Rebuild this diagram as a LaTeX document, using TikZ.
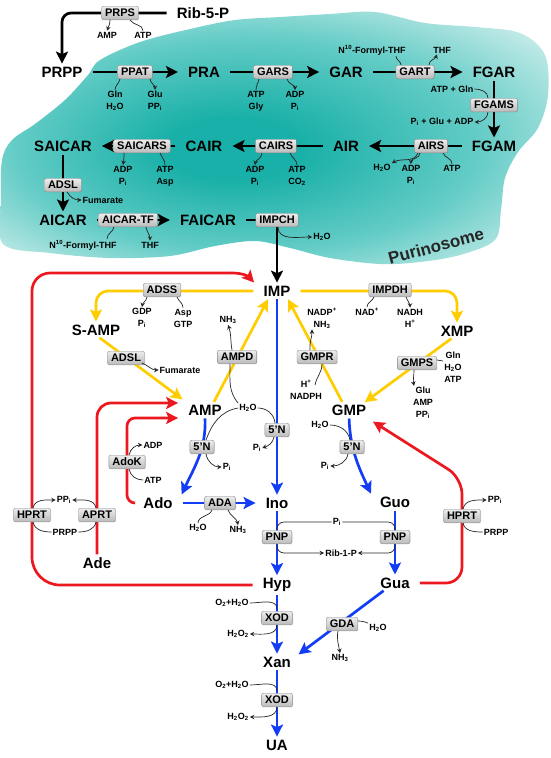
\documentclass[tikz,border=0pt]{standalone}
\usepackage{fontspec}
\setmainfont{Liberation Sans}
\usetikzlibrary{arrows.meta,shadows}

\definecolor{rd}{RGB}{236,24,32}
\definecolor{yl}{RGB}{255,204,0}
\definecolor{bl}{RGB}{18,60,245}
\definecolor{tealc}{RGB}{24,176,168}
\definecolor{tealm}{RGB}{100,204,198}
\definecolor{teall}{RGB}{200,236,234}
\pgfdeclareradialshading{purino}{\pgfpoint{-4bp}{-2.5bp}}{color(0bp)=(tealc); color(6bp)=(tealc); color(21bp)=(tealm); color(33bp)=(teall); color(50bp)=(teall)}

\newcommand{\Pii}{P\textsubscript{i}}
\newcommand{\PPi}{PP\textsubscript{i}}
\newcommand{\Hoo}{H\textsubscript{2}O}
\newcommand{\Nform}{N\textsuperscript{10}-Formyl-THF}

\tikzset{
  met/.style={font=\fontsize{15}{16}\selectfont\bfseries, inner xsep=8pt, inner ysep=1pt},
  enz/.style={draw=black!45, top color=black!7, bottom color=black!27, rounded corners=2pt,
    font=\fontsize{11}{11}\selectfont\bfseries, inner xsep=3.5pt, inner ysep=1pt, minimum height=13.5pt,
    drop shadow={opacity=0.25, shadow xshift=0.7pt, shadow yshift=-0.7pt}},
  sm/.style={font=\fontsize{9}{12}\selectfont\bfseries, inner sep=1pt, align=center},
  mainarr/.style={line width=2.7pt, -{Stealth[length=12pt,width=12pt,inset=2.5pt]}, shorten <=2pt, shorten >=2pt},
  rdarr/.style={mainarr, draw=rd},
  ylarr/.style={mainarr, draw=yl},
  blarr/.style={mainarr, draw=bl},
  side/.style={line width=0.7pt, draw=black!85, -{Stealth[length=4.5pt,width=4.5pt]}},
  cof/.style={line width=0.7pt, draw=black!85},
}

\begin{document}
\begin{tikzpicture}[x=1pt,y=1pt]
\useasboundingbox (0,0) rectangle (550,-758);

%% purinosome
\shade[shading=purino] plot[smooth cycle, tension=0.55] coordinates {
  (100,-60) (140,-42) (190,-29) (235,-20) (280,-17) (330,-14) (375,-12) (425,-23)
  (475,-27) (520,-33) (545,-55) (548,-95) (538,-128) (518,-152) (505,-178) (501,-210)
  (495,-240) (460,-255) (420,-262) (380,-264) (330,-258) (290,-248) (255,-241) (215,-246)
  (170,-256) (110,-258) (50,-253) (3,-244) (1,-200) (2,-160) (12,-140) (35,-124)
  (65,-100) (88,-75)};
\node[rotate=15, font=\fontsize{17}{17}\selectfont\bfseries, text=black!85] (puri) at (436,-246) {Purinosome};

%% metabolites, de novo
\node[met] (rib) at (203,-13) {Rib-5-P};
\node[met] (prpp) at (62,-72) {PRPP};
\node[met] (pra) at (204,-72) {PRA};
\node[met] (gar) at (346,-72) {GAR};
\node[met] (fgar) at (494,-72) {FGAR};
\node[met] (fgam) at (494,-146) {FGAM};
\node[met] (air) at (346,-146) {AIR};
\node[met] (cair) at (204,-146) {CAIR};
\node[met] (saicar) at (63,-146) {SAICAR};
\node[met] (aicar) at (63,-220) {AICAR};
\node[met] (faicar) at (208,-220) {FAICAR};
\node[met] (imp) at (277,-291) {IMP};

%% metabolites, salvage
\node[met] (samp) at (96,-330) {S-AMP};
\node[met] (xmp) at (457,-331) {XMP};
\node[met] (amp) at (205,-410) {AMP};
\node[met] (gmp) at (349,-410) {GMP};
\node[met] (ado) at (158,-503) {Ado};
\node[met] (ino) at (277,-503) {Ino};
\node[met] (guo) at (395,-502) {Guo};
\node[met] (ade) at (97,-563) {Ade};
\node[met] (hyp) at (277,-585) {Hyp};
\node[met] (gua) at (395,-583) {Gua};
\node[met] (xan) at (277,-662) {Xan};
\node[met] (ua) at (277,-745) {UA};

%% de novo arrows
\draw[mainarr, rounded corners=9pt] (rib.west) -| (prpp.north);
\draw[mainarr] (prpp) -- (pra);
\draw[mainarr] (pra) -- (gar);
\draw[mainarr] (gar) -- (fgar);
\draw[mainarr] (fgar) -- (fgam);
\draw[mainarr] (fgam) -- (air);
\draw[mainarr] (air) -- (cair);
\draw[mainarr] (cair) -- (saicar);
\draw[mainarr] (saicar) -- (aicar);
\draw[mainarr] (aicar) -- (faicar);
\draw[mainarr] (faicar) -| (imp);

%% yellow
\draw[ylarr, rounded corners=12pt] (imp.west) -| (samp.north);
\draw[ylarr] ([xshift=2pt]samp.south) -- ([shift={(4pt,3pt)}]amp.north west);
\draw[ylarr] ([xshift=8pt]amp.north) -- ([xshift=-8pt]imp.south);
\draw[ylarr, rounded corners=12pt] (imp.east) -| (xmp.north);
\draw[ylarr] ([xshift=-4pt]xmp.south) -- ([xshift=14pt]gmp.north);
\draw[ylarr] ([xshift=-6pt]gmp.north) -- ([xshift=10pt]imp.south);

%% blue
\draw[blarr] (imp) -- (ino);
\draw[blarr] (amp.south) to[out=-88,in=65] (ado.north east);
\draw[blarr] (gmp.south) to[out=-88,in=115] (guo.north west);
\draw[blarr] (ado) -- (ino);
\draw[blarr] (ino) -- (hyp);
\draw[blarr] (guo) -- (gua);
\draw[blarr] (hyp) -- (xan);
\draw[blarr] (xan) -- (ua);
\draw[blarr] ([xshift=13pt]gua.south west) -- ([xshift=-2pt]xan.north east);

%% red
\draw[rdarr] (hyp.west) -- (60,-585) arc[start angle=270, end angle=180, radius=28]
  -- (32,-291) arc[start angle=180, end angle=90, radius=18]
  -- (232,-273) .. controls (244,-273) and (249,-277) .. ([yshift=7pt]imp.west);
\draw[rdarr, rounded corners=14pt] (ade.north) |- ([yshift=7pt]amp.west);
\draw[rdarr, rounded corners=8pt] ([xshift=2pt]ado.west) -- (127,-503) -- (127,-418) -- ([yshift=-8pt]amp.west);
\draw[rdarr, rounded corners=16pt] (gua.east) -- (462,-583) -- (462,-478) -- ([shift={(-3pt,-4pt)}]gmp.south east);

%% enzymes
\node[enz] (prps) at (120,-13) {PRPS};
\node[enz] (ppat) at (135,-72) {PPAT};
\node[enz] (gars) at (273,-72) {GARS};
\node[enz] (gart) at (415,-72) {GART};
\node[enz] (fgams) at (494,-105) {FGAMS};
\node[enz] (airs) at (431,-146) {AIRS};
\node[enz] (cairs) at (276,-146) {CAIRS};
\node[enz] (saicars) at (142,-146) {SAICARS};
\node[enz] (adsla) at (63,-185) {ADSL};
\node[enz] (aicartf) at (128,-220) {AICAR-TF};
\node[enz] (impch) at (277,-220) {IMPCH};
\node[enz] (adss) at (162,-290) {ADSS};
\node[enz] (impdh) at (390,-290) {IMPDH};
\node[enz] (adslb) at (126,-358) {ADSL};
\node[enz] (ampd) at (237,-357) {AMPD};
\node[enz] (gmpr) at (317,-357) {GMPR};
\node[enz] (gmps) at (417,-363) {GMPS};
\node[enz] (n5a) at (202,-447) {5'N};
\node[enz] (n5i) at (277,-430) {5'N};
\node[enz] (n5g) at (352,-447) {5'N};
\node[enz] (adok) at (127,-462) {AdoK};
\node[enz] (ada) at (220,-503) {ADA};
\node[enz] (pnpa) at (277,-537) {PNP};
\node[enz] (pnpb) at (395,-537) {PNP};
\node[enz] (hprta) at (32,-515) {HPRT};
\node[enz] (aprt) at (97,-515) {APRT};
\node[enz] (hprtb) at (462,-516) {HPRT};
\node[enz] (xoda) at (277,-618) {XOD};
\node[enz] (gda) at (342,-624) {GDA};
\node[enz] (xodb) at (277,-700) {XOD};

%% cofactors, de novo
\node[sm] (amp0) at (107,-35) {AMP};
\node[sm] (atp0) at (143,-35) {ATP};
\node[sm] (gln0) at (115,-101) {Gln\\\Hoo};
\node[sm] (glu0) at (155,-101) {Glu\\\PPi};
\node[sm] (atpa) at (256,-101) {ATP\\Gly};
\node[sm] (adpa) at (295,-101) {ADP\\\Pii};
\node[sm] (nfa) at (372,-50) {\Nform};
\node[sm] (thfa) at (442,-50) {THF};
\node[sm] (atpgln) at (452,-89) {ATP + Gln};
\node[sm] (piglu) at (442,-122) {\Pii{} + Glu + ADP};
\node[sm] (h2oa) at (382,-168) {\Hoo};
\node[sm] (adpb) at (411,-175) {ADP\\\Pii};
\node[sm] (atpb) at (452,-168) {ATP};
\node[sm] (adpc) at (255,-176) {ADP\\\Pii};
\node[sm] (atpc) at (297,-176) {ATP\\CO\textsubscript{2}};
\node[sm] (adpd) at (123,-176) {ADP\\\Pii};
\node[sm] (atpd) at (165,-176) {ATP\\Asp};
\node[sm] (fuma) at (103,-200) {Fumarate};
\node[sm] (nfb) at (83,-245) {\Nform};
\node[sm] (thfb) at (150,-245) {THF};
\node[sm] (h2ob) at (322,-237) {\Hoo};

\draw[side] ([xshift=-10pt]prps.south) to[out=-90,in=70] (amp0.north);
\draw[cof] (atp0.north) to[out=90,in=-60] ([xshift=10pt]prps.south);
\draw[cof] (gln0.north) to[out=90,in=-100] ([xshift=-15pt]ppat.south);
\draw[side] ([xshift=15pt]ppat.south) to[out=-80,in=90] (glu0.north);
\draw[cof] (atpa.north) to[out=90,in=-100] ([xshift=-14pt]gars.south);
\draw[side] ([xshift=14pt]gars.south) to[out=-80,in=90] (adpa.north);
\draw[cof] ([xshift=24pt]nfa.south) to[out=-90,in=90] ([xshift=-14pt]gart.north);
\draw[side] ([xshift=14pt]gart.north) to[out=90,in=-110] ([xshift=-5pt]thfa.south);
\draw[cof] (atpgln.east) to[out=0,in=90] ([xshift=-6pt]fgams.north);
\draw[side] ([xshift=-6pt]fgams.south) to[out=-90,in=0] (piglu.east);
\draw[side] ([xshift=-13pt]airs.south) to[out=-110,in=30] (h2oa.north east);
\draw[side] ([xshift=-11pt]airs.south) to[out=-90,in=90] (adpb.north);
\draw[cof] (atpb.north) to[out=90,in=-70] ([xshift=12pt]airs.south);
\draw[side] ([xshift=-14pt]cairs.south) to[out=-90,in=80] (adpc.north);
\draw[cof] (atpc.north) to[out=90,in=-70] ([xshift=14pt]cairs.south);
\draw[side] ([xshift=-18pt]saicars.south) to[out=-90,in=80] (adpd.north);
\draw[cof] (atpd.north) to[out=90,in=-70] ([xshift=18pt]saicars.south);
\draw[side] ([xshift=4pt]adsla.south) to[out=-60,in=180] (fuma.west);
\draw[cof] ([xshift=24pt]nfb.north) to[out=90,in=-100] ([xshift=-14pt]aicartf.south);
\draw[side] ([xshift=18pt]aicartf.south) to[out=-80,in=90] (thfb.north);
\draw[side] ([xshift=1pt]impch.south) to[out=-90,in=180] (h2ob.west);

%% cofactors, salvage
\node[sm] (gdp) at (142,-318) {GDP\\\Pii};
\node[sm] (aspg) at (183,-318) {Asp\\GTP};
\node[sm] (nad) at (367,-312) {NAD\textsuperscript{+}};
\node[sm] (nadh) at (410,-318) {NADH\\H\textsuperscript{+}};
\node[sm] (nadp) at (322,-318) {NADP\textsuperscript{+}\\NH\textsubscript{3}};
\node[sm] (nh3a) at (228,-320) {NH\textsubscript{3}};
\node[sm] (fumb) at (180,-370) {Fumarate};
\node[sm] (hnadph) at (306,-390) {H\textsuperscript{+}\\NADPH};
\node[sm] (glnb) at (453,-367) {Gln\\\Hoo\\ATP};
\node[sm] (glub) at (423,-403) {Glu\\AMP\\\PPi};
\node[sm] (h2oc) at (248,-408) {\Hoo};
\node[sm] (pia) at (257,-448) {\Pii};
\node[sm] (pib) at (227,-467) {\Pii};
\node[sm] (h2od) at (320,-425) {\Hoo};
\node[sm] (pic) at (325,-466) {\Pii};
\node[sm] (adpe) at (153,-445) {ADP};
\node[sm] (atpe) at (153,-480) {ATP};
\node[sm] (h2oe) at (198,-528) {\Hoo};
\node[sm] (nh3b) at (238,-530) {NH\textsubscript{3}};
\node[sm] (pip) at (337,-522) {\Pii};
\node[sm] (rib1) at (341,-553) {Rib-1-P};
\node[sm] (ppa) at (64,-500) {\PPi};
\node[sm] (prppa) at (65,-532) {PRPP};
\node[sm] (ppb) at (495,-500) {\PPi};
\node[sm] (prppb) at (496,-532) {PRPP};
\node[sm] (o2a) at (232,-603) {O\textsubscript{2}+\Hoo};
\node[sm] (h2o2a) at (238,-634) {H\textsubscript{2}O\textsubscript{2}};
\node[sm] (o2b) at (232,-685) {O\textsubscript{2}+\Hoo};
\node[sm] (h2o2b) at (238,-717) {H\textsubscript{2}O\textsubscript{2}};
\node[sm] (h2of) at (378,-628) {\Hoo};
\node[sm] (nh3c) at (340,-658) {NH\textsubscript{3}};

\draw[side] ([xshift=-15pt]adss.south) to[out=-100,in=80] (gdp.north);
\draw[cof] (aspg.north) to[out=90,in=-70] ([xshift=15pt]adss.south);
\draw[cof] (nad.north) to[out=90,in=-110] ([xshift=-16pt]impdh.south);
\draw[side] ([xshift=16pt]impdh.south) to[out=-70,in=90] (nadh.north);
\draw[side] ([shift={(-3pt,2pt)}]adslb.south east) to[out=-20,in=180] (fumb.west);
\draw[side] ([xshift=-5pt]ampd.north) to[out=100,in=-70] (nh3a.south);
\draw[cof] ([xshift=-7pt]ampd.south) to[out=-90,in=130] (h2oc.north west);
\draw[cof] (h2oc.west) to[out=190,in=70] ([xshift=4pt]n5a.north);
\draw[cof] (h2oc.east) to[out=0,in=95] ([xshift=-2pt]n5i.north);
\draw[side] ([xshift=-3pt]n5i.south) to[out=-100,in=20] (pia.east);
\draw[side] ([xshift=4pt]n5a.south) to[out=-80,in=180] (pib.west);
\draw[cof] (h2od.east) to[out=0,in=100] ([xshift=-2pt]n5g.north);
\draw[side] ([xshift=-4pt]n5g.south) to[out=-100,in=0] (pic.east);
\draw[side] ([xshift=-7pt]gmpr.north) to[out=95,in=-90] ([xshift=-10pt]nadp.south);
\draw[cof] ([shift={(9pt,-6pt)}]hnadph.north) to[out=80,in=-90] ([xshift=5pt]gmpr.south);
\draw[cof] ([yshift=6pt]glnb.west) to[out=180,in=0] ([yshift=3pt]gmps.east);
\draw[side] ([xshift=-3pt]gmps.south) to[out=-90,in=100] ([xshift=-9pt]glub.north);
\draw[side] ([xshift=2pt]adok.north) to[out=80,in=180] (adpe.west);
\draw[cof] (atpe.west) to[out=180,in=-80] ([xshift=2pt]adok.south);
\draw[cof] (h2oe.north) to[out=90,in=-110] ([xshift=-8pt]ada.south);
\draw[side] ([xshift=8pt]ada.south) to[out=-70,in=100] (nh3b.north);
\draw[cof, rounded corners=7pt] (pnpa.north) |- (pip.west);
\draw[cof, rounded corners=7pt] (pip.east) -| (pnpb.north);
\draw[side, rounded corners=7pt] (pnpa.south) |- (rib1.west);
\draw[side, rounded corners=7pt] (pnpb.south) |- (rib1.east);
\draw[side] ([xshift=1pt]hprta.north) to[out=80,in=180] (ppa.west);
\draw[side] ([xshift=-1pt]aprt.north) to[out=100,in=0] (ppa.east);
\draw[cof] ([xshift=1pt]hprta.south) to[out=-80,in=180] (prppa.west);
\draw[cof] ([xshift=-1pt]aprt.south) to[out=-100,in=0] (prppa.east);
\draw[side] ([xshift=1pt]hprtb.north) to[out=80,in=180] (ppb.west);
\draw[cof] ([xshift=1pt]hprtb.south) to[out=-80,in=180] (prppb.west);
\draw[cof] (o2a.east) to[out=0,in=90] ([yshift=2pt]xoda.north);
\draw[side] (xoda.south) to[out=-90,in=0] (h2o2a.east);
\draw[cof] (o2b.east) to[out=0,in=90] ([yshift=2pt]xodb.north);
\draw[side] (xodb.south) to[out=-90,in=0] (h2o2b.east);
\draw[cof] (h2of.north west) to[out=160,in=0] ([yshift=3pt]gda.east);
\draw[side] ([xshift=-4pt]gda.south) to[out=-100,in=100] (nh3c.north);
\end{tikzpicture}
\end{document}
